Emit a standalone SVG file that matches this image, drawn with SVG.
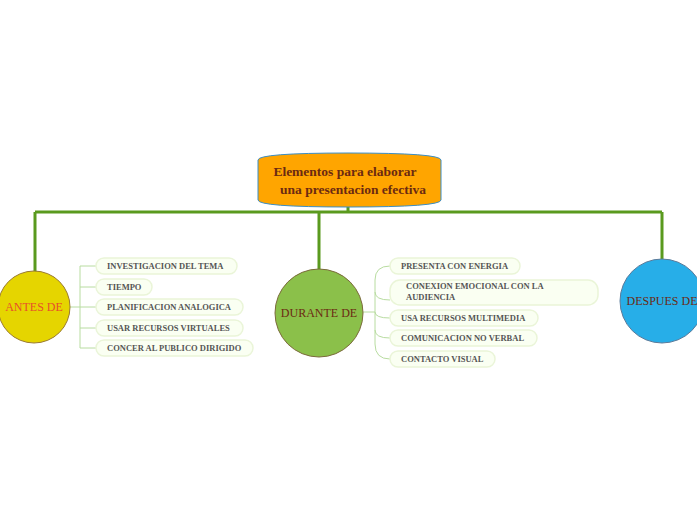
<svg xmlns="http://www.w3.org/2000/svg" width="697" height="520" viewBox="0 0 697 520">
<style>
.tr{stroke:#5a9a1e;stroke-width:3;fill:none}
.br{stroke:#b8dca0;stroke-width:1;fill:none}
.pill{fill:#fafff2;stroke:#eaf5d8;stroke-width:1.5}
.pt{font-family:"Liberation Serif",serif;font-size:8.5px;font-weight:bold;fill:#555}
.ct{font-family:"Liberation Serif",serif;font-size:12px}
</style>
<rect width="697" height="520" fill="#fff"/>
<g id="connectors">
<path class="tr" d="M348 205V212M35 212H662M35 212V272M319 212V269M662 212V259"/>
<path class="br" d="M70 307H80M80 266V348M80 266H96M80 287H96M80 307H96M80 328H96M80 348H96"/>
<path class="br" d="M363 312H375M390 266Q375 266 375 280V344Q375 359 390 359M375 292Q375 300 390 300M375 312Q375 318 390 318M375 330Q375 338 390 338"/>
</g>
<g id="root"><path d="M258 160Q258 153 348 153Q441 153 441 160V200Q441 207 348 207Q258 207 258 200Z" fill="#ffa500" stroke="#3b8ec6" stroke-width="1"/>
<text x="345" y="176" text-anchor="middle" font-family="Liberation Serif,serif" font-size="13.5" font-weight="bold" fill="#6b2a12">Elementos para elaborar</text>
<text x="353" y="194" text-anchor="middle" font-family="Liberation Serif,serif" font-size="13.5" font-weight="bold" fill="#6b2a12">una presentacion efectiva</text></g>
<g id="antes"><circle cx="34" cy="307" r="36" fill="#e5d500" stroke="#9a7a30"/><text class="ct" x="34" y="311" text-anchor="middle" fill="#e8502a">ANTES DE</text></g>
<g id="durante"><circle cx="319" cy="313" r="44" fill="#8bc04a" stroke="#7a6a3a"/><text class="ct" x="319" y="317" text-anchor="middle" fill="#6b2a12">DURANTE DE</text></g>
<g id="despues"><circle cx="662" cy="301" r="42" fill="#27aee8" stroke="#5a7a9a"/><text class="ct" x="662" y="305" text-anchor="middle" fill="#6b2a12">DESPUES DE</text></g>
<g id="a1"><rect class="pill" x="96" y="258" width="141" height="16" rx="8"/><text class="pt" x="107" y="269">INVESTIGACION DEL TEMA</text></g>
<g id="a2"><rect class="pill" x="96" y="279" width="56" height="16" rx="8"/><text class="pt" x="107" y="290">TIEMPO</text></g>
<g id="a3"><rect class="pill" x="96" y="299" width="147" height="16" rx="8"/><text class="pt" x="107" y="310">PLANIFICACION ANALOGICA</text></g>
<g id="a4"><rect class="pill" x="96" y="320" width="147" height="16" rx="8"/><text class="pt" x="107" y="331">USAR RECURSOS VIRTUALES</text></g>
<g id="a5"><rect class="pill" x="96" y="340" width="157" height="16" rx="8"/><text class="pt" x="107" y="351">CONCER AL PUBLICO DIRIGIDO</text></g>
<g id="d1"><rect class="pill" x="390" y="258" width="130" height="16" rx="8"/><text class="pt" x="401" y="269">PRESENTA CON ENERGIA</text></g>
<g id="d2"><rect class="pill" x="390" y="280" width="208" height="25" rx="10"/><text class="pt" x="406" y="289">CONEXION EMOCIONAL CON LA</text><text class="pt" x="406" y="300">AUDIENCIA</text></g>
<g id="d3"><rect class="pill" x="390" y="310" width="148" height="16" rx="8"/><text class="pt" x="401" y="321">USA RECURSOS MULTIMEDIA</text></g>
<g id="d4"><rect class="pill" x="390" y="330" width="147" height="16" rx="8"/><text class="pt" x="401" y="341">COMUNICACION NO VERBAL</text></g>
<g id="d5"><rect class="pill" x="390" y="351" width="105" height="16" rx="8"/><text class="pt" x="401" y="362">CONTACTO VISUAL</text></g>
</svg>
